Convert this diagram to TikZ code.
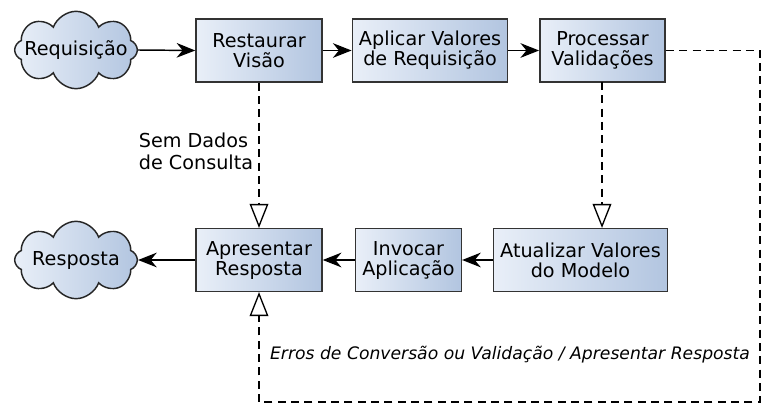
\documentclass[tikz,border=0pt]{standalone}
\usepackage{fontspec}
\setmainfont{DejaVu Sans}
\usetikzlibrary{shapes.symbols,arrows.meta}
\definecolor{faseL}{RGB}{233,239,248}
\definecolor{faseR}{RGB}{178,197,224}

\begin{document}
\begin{tikzpicture}[x=0.75pt,y=-0.75pt,font=\fontsize{14.4}{15}\selectfont,
  fase/.style={draw=black!80,line width=1.1pt,left color=faseL,right color=faseR,align=center,minimum height=47pt,inner xsep=5pt},
  nuvem/.style={cloud,cloud puffs=8,cloud puff arc=140,draw=black!85,line width=1.1pt,left color=faseL,right color=faseR,minimum width=92pt,minimum height=58pt,inner sep=0pt},
  seta/.style={-{Stealth[length=14pt,width=11pt,inset=4.5pt]},line width=1.1pt},
  retorno/.style={dash pattern=on 6pt off 4pt,line width=1pt,-{Triangle[open,length=18pt,width=14pt,line width=1pt]}}]
\useasboundingbox (0,0) rectangle (777,417);

\node [nuvem] (req) at (76,50) {};
\node (reqtxt) at (req) {Requisição};
\node [fase,minimum width=94.5pt] (restaurar) at (259,50.5) {Restaurar\\Visão};
\node [fase] (aplicar) at (430,50.5) {Aplicar Valores\\de Requisição};
\node [fase,minimum width=94pt] (processar) at (602.5,50.5) {Processar\\Validações};

\node [nuvem] (resp) at (76,260) {};
\node (resptxt) at (resp) {Resposta};
\node [fase,minimum width=94.5pt] (apresentar) at (259,260) {Apresentar\\Resposta};
\node [fase] (invocar) at (408.5,260) {Invocar\\Aplicação};
\node [fase] (atualizar) at (580.5,260) {Atualizar Valores\\do Modelo};

\draw [seta] (req.east) -- (restaurar.west);
\draw [seta] (restaurar) -- (aplicar);
\draw [seta] (aplicar) -- (processar);
\draw [seta] (atualizar) -- (invocar);
\draw [seta] (invocar) -- (apresentar);
\draw [seta] (apresentar.west) -- (resp.east);

% caminhos alternativos
\draw [retorno] (restaurar) -- (apresentar);
\node [align=left,font=\fontsize{14.4}{16.5}\selectfont] (semdados) at (196,151) {Sem Dados\\de Consulta};
\coordinate (desvio) at (602,82);
\draw [retorno] (desvio) -- (desvio |- atualizar.north);
\coordinate (canto) at (760,402);
\draw [retorno] (processar.east) -| (canto) -| (apresentar.south);
\node [font=\fontsize{12.9}{15}\selectfont\itshape] (erros) at (510,355) {Erros de Conversão ou Validação / Apresentar Resposta};
\end{tikzpicture}
\end{document}
